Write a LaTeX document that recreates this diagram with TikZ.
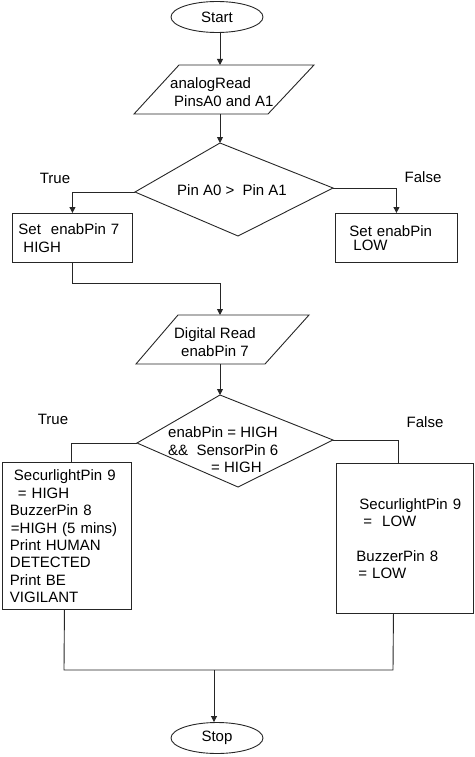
\documentclass[tikz,border=0pt]{standalone}
\usepackage{fontspec}
\setmainfont{Liberation Sans}
\usetikzlibrary{arrows.meta,shapes.geometric}
\begin{document}
\begin{tikzpicture}[x=1pt,y=-1pt,
  every node/.style={font=\fontsize{15}{17.4}\selectfont},
  ln/.style={line width=0.9pt,draw=black!85},
  arr/.style={ln,-{Triangle[length=6pt,width=6pt]}},
  term/.style={ellipse,draw,line width=0.9pt,draw=black!85,minimum width=92pt,minimum height=31pt,inner sep=0pt},
  procbox/.style={draw,line width=0.9pt,draw=black!85,rectangle,align=left,inner ysep=0pt,anchor=north west},
  lbl/.style={inner sep=0pt}
]
\useasboundingbox (0,0) rectangle (474,757);

% Start
\node[term] (start) at (217,17) {Start};

% Parallelogram 1
\coordinate (p1a) at (179,65);
\coordinate (p1b) at (314,65);
\coordinate (p1c) at (268,114);
\coordinate (p1d) at (134,114);
\coordinate (p1t) at (220,65);
\coordinate (p1s) at (220,114);
\draw[ln] (p1a) -- (p1b) -- (p1c) -- (p1d) -- cycle;
\node[lbl,anchor=west,align=left] (p1txt) at (170,92) {analogRead\\\hspace{4pt}PinsA0 and A1};

% Diamond 1
\coordinate (d1t) at (220,143);
\coordinate (d1r) at (333,188);
\coordinate (d1b) at (238,236);
\coordinate (d1l) at (135,192);
\draw[ln] (d1t) -- (d1r) -- (d1b) -- (d1l) -- cycle;
\node[lbl] (d1txt) at (232,190) {Pin A0 > \ Pin A1};

\node[lbl] (t1) at (55,178) {True};
\node[lbl] (f1) at (423,177) {False};

% Boxes level 1
\node[procbox,minimum width=120pt,minimum height=49pt,text width=108pt,inner xsep=6pt] (b1l) at (12,213)
  {Set \ enabPin 7\\\hspace{5pt}HIGH};
\node[procbox,minimum width=122pt,minimum height=49pt,text width=94pt,inner xsep=14pt] (b1r) at (335,213)
  {Set enabPin\\[-3pt]\hspace{4pt}LOW\\[3pt]};

% Parallelogram 2
\coordinate (p2a) at (178,315);
\coordinate (p2b) at (309,315);
\coordinate (p2c) at (265,364);
\coordinate (p2d) at (136,364);
\coordinate (p2t) at (220,315);
\coordinate (p2s) at (220,364);
\draw[ln] (p2a) -- (p2b) -- (p2c) -- (p2d) -- cycle;
\node[lbl,align=center] (p2txt) at (215,342) {Digital Read\\enabPin 7};

% Diamond 2
\coordinate (d2t) at (220,395);
\coordinate (d2r) at (333,440);
\coordinate (d2b) at (238,487);
\coordinate (d2l) at (137,443);
\draw[ln] (d2t) -- (d2r) -- (d2b) -- (d2l) -- cycle;
\node[lbl,anchor=west,align=left] (d2txt) at (168,450)
  {enabPin = HIGH\\\&\& \ SensorPin 6\\\hspace{43pt}= HIGH};

\node[lbl] (t2) at (53,419) {True};
\node[lbl] (f2) at (425,422) {False};

% Boxes level 2
\node[procbox,minimum width=129pt,minimum height=147pt,text width=114pt,inner xsep=15pt,inner xsep=0pt,text width=114pt] (b2l) at (2,462)
  {\hspace{15pt}\begin{minipage}{114pt}\raggedright
  \hspace{4pt}SecurlightPin 9\\
  \hspace{8pt}= HIGH\\
  BuzzerPin 8\\
  \hspace{1pt}=HIGH (5 mins)\\
  Print HUMAN\\
  DETECTED\\
  Print BE\\
  VIGILANT\end{minipage}};
\node[procbox,minimum width=137pt,minimum height=150pt,inner xsep=0pt,text width=137pt] (b2r) at (336,463)
  {\hspace{20pt}\begin{minipage}{117pt}\raggedright
  \hspace{3pt}SecurlightPin 9\\
  \hspace{7pt}= \ LOW\\[17.4pt]
  BuzzerPin 8\\
  \hspace{2pt}= LOW\end{minipage}};

% Stop
\node[term] (stop) at (217,738) {Stop};

% Junction coordinates
\coordinate (j1) at (220,283);
\coordinate (jL) at (64,670);
\coordinate (jR) at (393,670);
\coordinate (jM) at (214,670);

% Connectors
\draw[arr] (start.south -| p1t) -- (p1t);
\draw[arr] (p1s) -- (d1t);
\draw[arr] (d1l) -| (b1l.north);
\draw[arr] (d1r) -| (b1r.north);
\draw[arr] (b1l.south) |- (j1) -- (p2t);
\draw[arr] (p2s) -- (d2t);
\draw[ln] (d2l) -| ([xshift=4.5pt]b2l.north);
\draw[ln] (d2r) -| ([xshift=-6.5pt]b2r.north);
\draw[ln] ([xshift=-2.5pt]b2l.south) -- (jL) -- (jR) -- ([xshift=-11.5pt]b2r.south);
\draw[arr] (jM) -- (stop.north -| jM);
\end{tikzpicture}
\end{document}
